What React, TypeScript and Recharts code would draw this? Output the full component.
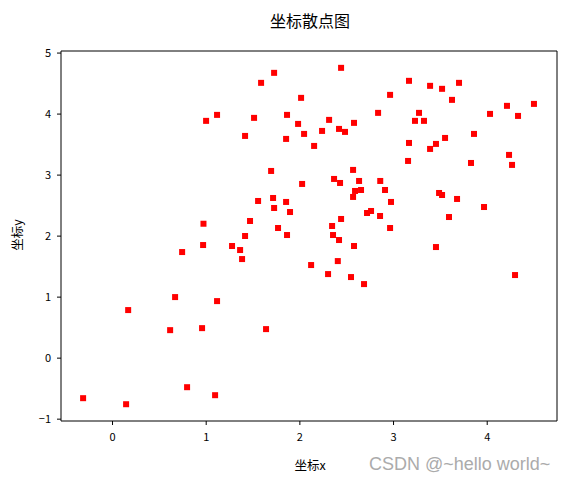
import React from 'react';
import { ScatterChart, Scatter, XAxis, YAxis } from 'recharts';

const xValues = [
  1.116, 0.999, 0.971,
  1.725, 1.586, 2.44, 2.013, 1.511, 1.863, 2.835, 1.981, 2.312, 2.578, 1.415, 1.853, 2.045, 2.237, 2.418, 2.482, 2.152,
  1.693, 2.568, 2.024, 2.365, 2.429, 2.632, 2.589, 2.653, 2.568, 2.858, 2.909, 1.554, 1.714, 1.725, 1.853, 1.895,
  2.717, 2.76, 2.856, 2.44, 1.468, 2.344, 1.767, 1.415, 1.863, 2.354,
  2.963, 3.165, 3.39, 3.518, 3.699, 3.624, 4.499, 4.211, 4.03, 4.329, 3.272, 3.229, 3.325, 3.859, 3.55, 3.165, 3.453,
  3.39, 3.155, 3.827, 4.233, 4.265, 2.973, 3.486, 3.518, 3.678, 3.966, 3.592, 2.963,
  0.967, 0.743, 0.668, 1.116, 0.167, 0.615, 0.956, 0.796, 1.095, -0.314, 0.145,
  2.418, 2.578, 1.276, 1.362, 1.383, 2.12, 2.405, 2.301, 2.546, 2.685, 1.639,
  3.453, 4.297,
];
const yValues = [
  3.987, 3.889, 2.203,
  4.676, 4.512, 4.758, 4.266, 3.938, 3.987, 4.02, 3.839, 3.905, 3.856, 3.642, 3.593, 3.675, 3.724, 3.757, 3.708, 3.478,
  3.068, 3.085, 2.855, 2.937, 2.871, 2.904, 2.74, 2.756, 2.642, 2.904, 2.756, 2.576, 2.625, 2.461, 2.56, 2.395,
  2.379, 2.412, 2.33, 2.281, 2.248, 2.166, 2.133, 2.002, 2.018, 2.018,
  4.315, 4.545, 4.463, 4.414, 4.512, 4.233, 4.167, 4.135, 4.003, 3.97, 4.02, 3.889, 3.889, 3.675, 3.609, 3.527, 3.511,
  3.429, 3.232, 3.199, 3.331, 3.167, 2.56, 2.707, 2.674, 2.609, 2.477, 2.313, 2.133,
  1.854, 1.739, 1.001, 0.935, 0.788, 0.459, 0.492, -0.476, -0.607, -0.656, -0.755,
  1.936, 1.838, 1.838, 1.772, 1.624, 1.526, 1.591, 1.378, 1.329, 1.214, 0.476,
  1.821, 1.362,
];
const xTicks = [0, 1, 2, 3, 4];
const yTicks = [-1, 0, 1, 2, 3, 4, 5];

const title = '坐标散点图';
const xLabel = '坐标x';
const yLabel = '坐标y';
const watermark = 'CSDN @~hello world~';

const data = xValues.map((x, i) => ({ x, y: yValues[i] }));
const frameData = [{ fx: 0, fy: 0 }];

const cjk = '"Noto Sans CJK SC", "Noto Sans", sans-serif';
const tickStyle = { fill: '#000', fontSize: 11, fontFamily: cjk };

const SquareMark = (props: any) => {
  const { cx, cy } = props;
  if (cx == null || cy == null) return null;
  return <rect x={cx - 3} y={cy - 3} width={6} height={6} fill="#ff0000" />;
};

const NoMark = () => null;

export default function App() {
  return (
    <div style={{ position: 'absolute', left: 0, top: 0, width: 566, height: 478, background: '#fff' }}>
      <ScatterChart width={566} height={478} margin={{ top: 50, right: 8, bottom: 0, left: 0 }}>
        <XAxis
          type="number"
          dataKey="x"
          domain={[-0.55, 4.745]}
          ticks={xTicks}
          allowDataOverflow
          height={57}
          tickSize={4}
          tickMargin={8}
          tick={tickStyle}
          stroke="#000"
          tickLine={{ stroke: '#000' }}
          axisLine={{ stroke: '#000' }}
        />
        <XAxis
          xAxisId="top"
          orientation="top"
          type="number"
          dataKey="fx"
          domain={[0, 1]}
          height={1}
          tick={false}
          tickLine={false}
          stroke="#000"
          axisLine={{ stroke: '#000' }}
        />
        <YAxis
          type="number"
          dataKey="y"
          domain={[-1.03, 5.034]}
          ticks={yTicks}
          allowDataOverflow
          width={61}
          tickSize={4}
          tickMargin={6}
          tick={tickStyle}
          stroke="#000"
          tickLine={{ stroke: '#000' }}
          axisLine={{ stroke: '#000' }}
          tickFormatter={(v: number) => (v < 0 ? '\u2212' + Math.abs(v) : String(v))}
        />
        <YAxis
          yAxisId="right"
          orientation="right"
          type="number"
          dataKey="fy"
          domain={[0, 1]}
          width={1}
          tick={false}
          tickLine={false}
          stroke="#000"
          axisLine={{ stroke: '#000' }}
        />
        <Scatter data={data} fill="#ff0000" shape={<SquareMark />} isAnimationActive={false} />
        <Scatter
          data={frameData}
          xAxisId="top"
          yAxisId="right"
          shape={<NoMark />}
          legendType="none"
          isAnimationActive={false}
        />
      </ScatterChart>
      <div
        style={{
          position: 'absolute', left: 0, width: 620, top: 10, textAlign: 'center',
          fontFamily: cjk, fontSize: 16, lineHeight: '20px', color: '#000',
        }}
      >
        {title}
      </div>
      <div
        style={{
          position: 'absolute', left: 260, width: 100, top: 457, textAlign: 'center',
          fontFamily: cjk, fontSize: 12.5, lineHeight: '16px', color: '#000',
        }}
      >
        {xLabel}
      </div>
      <div
        style={{
          position: 'absolute', left: -33, top: 227, width: 100, textAlign: 'center',
          fontFamily: cjk, fontSize: 12.5, lineHeight: '16px', color: '#000',
          transform: 'rotate(-90deg)',
        }}
      >
        {yLabel}
      </div>
      <div
        style={{
          position: 'absolute', left: 369, top: 453, whiteSpace: 'nowrap',
          fontFamily: '"Liberation Sans", Arial, sans-serif', fontSize: 18, lineHeight: '22px', color: '#ababab',
        }}
      >
        {watermark}
      </div>
    </div>
  );
}
